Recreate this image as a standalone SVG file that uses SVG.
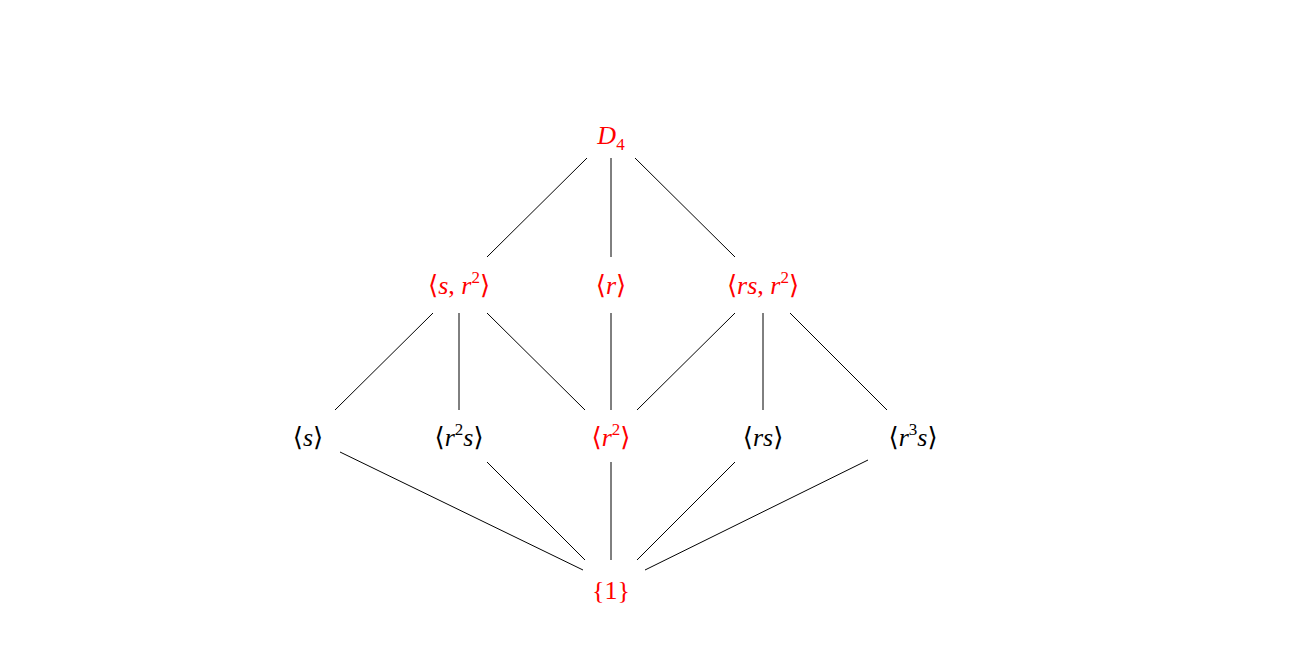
<svg xmlns="http://www.w3.org/2000/svg" width="1294" height="652" viewBox="0 0 1294 652">
<style>
text{font-family:"Liberation Serif","DejaVu Serif",serif;font-size:26px;text-anchor:middle}
.r{fill:#ff0000}.k{fill:#000}
.i{font-style:italic}
.sup{font-size:17px}
#edges line{stroke:#000;stroke-width:1}
</style>
<rect width="1294" height="652" fill="#fff"/>
<g id="edges">
<line x1="587" y1="158" x2="487" y2="257"/>
<line x1="611" y1="158" x2="611" y2="257"/>
<line x1="635" y1="158" x2="735" y2="257"/>
<line x1="433" y1="313" x2="335" y2="410"/>
<line x1="459" y1="313" x2="459" y2="410"/>
<line x1="487" y1="313" x2="585" y2="410"/>
<line x1="611" y1="313" x2="611" y2="410"/>
<line x1="735" y1="313" x2="637" y2="410"/>
<line x1="763" y1="313" x2="763" y2="410"/>
<line x1="790" y1="313" x2="887" y2="410"/>
<line x1="340" y1="452" x2="583" y2="570"/>
<line x1="487" y1="462" x2="585" y2="560"/>
<line x1="611" y1="462" x2="611" y2="560"/>
<line x1="735" y1="462" x2="637" y2="560"/>
<line x1="868" y1="460" x2="645" y2="570"/>
</g>
<g id="D4"><text x="611" y="144" class="r"><tspan class="i">D</tspan><tspan class="sup" dy="6">4</tspan></text></g>
<g id="sr2"><text x="459" y="294" class="r">⟨<tspan class="i">s</tspan>, <tspan class="i">r</tspan><tspan class="sup" dy="-11">2</tspan><tspan dy="11">⟩</tspan></text></g>
<g id="r"><text x="611" y="294" class="r">⟨<tspan class="i">r</tspan>⟩</text></g>
<g id="rsr2"><text x="763" y="294" class="r">⟨<tspan class="i">rs</tspan>, <tspan class="i">r</tspan><tspan class="sup" dy="-11">2</tspan><tspan dy="11">⟩</tspan></text></g>
<g id="s"><text x="308" y="446" class="k">⟨<tspan class="i">s</tspan>⟩</text></g>
<g id="r2s"><text x="459" y="446" class="k">⟨<tspan class="i">r</tspan><tspan class="sup" dy="-11">2</tspan><tspan class="i" dy="11">s</tspan>⟩</text></g>
<g id="r2"><text x="611" y="446" class="r">⟨<tspan class="i">r</tspan><tspan class="sup" dy="-11">2</tspan><tspan dy="11">⟩</tspan></text></g>
<g id="rs"><text x="763" y="446" class="k">⟨<tspan class="i">rs</tspan>⟩</text></g>
<g id="r3s"><text x="913" y="446" class="k">⟨<tspan class="i">r</tspan><tspan class="sup" dy="-11">3</tspan><tspan class="i" dy="11">s</tspan>⟩</text></g>
<g id="one"><text x="611" y="599" class="r">{1}</text></g>
</svg>
